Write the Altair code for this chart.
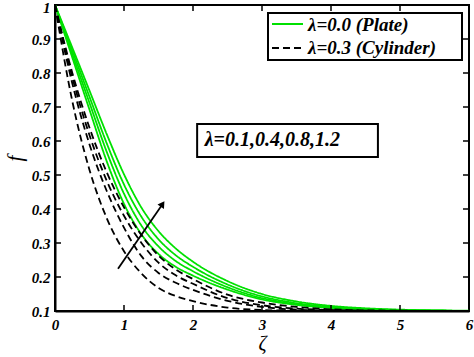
import altair as alt
import pandas as pd

# ---- data ----
zeta = [0, 0.25, 0.5, 0.75, 1.0, 1.25, 1.5, 1.75, 2.0, 2.5, 3.0, 3.5, 4.0, 4.5, 5.0, 5.5, 6.0]

plate_1 = [1.0, 0.875, 0.748, 0.620, 0.502, 0.405, 0.335, 0.284, 0.245, 0.188, 0.150, 0.128, 0.115, 0.108, 0.104, 0.102, 0.101]
plate_2 = [1.0, 0.866, 0.730, 0.593, 0.472, 0.378, 0.311, 0.264, 0.230, 0.178, 0.143, 0.123, 0.112, 0.106, 0.103, 0.101, 0.100]
plate_3 = [1.0, 0.856, 0.712, 0.568, 0.445, 0.352, 0.290, 0.247, 0.217, 0.170, 0.138, 0.120, 0.110, 0.105, 0.102, 0.101, 0.100]
plate_4 = [1.0, 0.846, 0.692, 0.540, 0.415, 0.326, 0.268, 0.230, 0.204, 0.163, 0.134, 0.118, 0.109, 0.104, 0.102, 0.101, 0.100]

cyl_1 = [1.0, 0.801, 0.639, 0.508, 0.405, 0.324, 0.263, 0.222, 0.194, 0.148, 0.125, 0.112, 0.105, 0.102, 0.101, 0.100, 0.100]
cyl_2 = [1.0, 0.788, 0.617, 0.483, 0.380, 0.301, 0.242, 0.205, 0.180, 0.138, 0.117, 0.107, 0.103, 0.101, 0.100, 0.100, 0.100]
cyl_3 = [1.0, 0.770, 0.590, 0.453, 0.345, 0.262, 0.212, 0.183, 0.162, 0.130, 0.112, 0.104, 0.101, 0.100, 0.100, 0.100, 0.100]
cyl_4 = [1.0, 0.718, 0.515, 0.373, 0.276, 0.211, 0.168, 0.144, 0.129, 0.110, 0.103, 0.101, 0.100, 0.100, 0.100, 0.100, 0.100]

series_names = ["λ=0.0 (Plate)", "λ=0.3 (Cylinder)"]
series_colors = ["#00e000", "#000000"]
x_ticks = [0, 1, 2, 3, 4, 5, 6]
y_ticks = [0.1, 0.2, 0.3, 0.4, 0.5, 0.6, 0.7, 0.8, 0.9, 1.0]

arrow_x = [0.913, 1.55]
arrow_y = [0.224, 0.412]
note_text = "λ=0.1,0.4,0.8,1.2"
note_box_x = [2.06, 4.68]
note_box_y = [0.553, 0.650]
note_pos = [2.17, 0.603]

# ---- build tables ----
rows = []
for i, s in enumerate([plate_1, plate_2, plate_3, plate_4]):
    for xv, fv in zip(zeta, s):
        rows.append({"zeta": xv, "f": fv, "curve": f"p{i}", "type": series_names[0]})
for i, s in enumerate([cyl_1, cyl_2, cyl_3, cyl_4]):
    for xv, fv in zip(zeta, s):
        rows.append({"zeta": xv, "f": fv, "curve": f"c{i}", "type": series_names[1]})
df = pd.DataFrame(rows)

FONT = "Liberation Serif"
W, H = 414, 306

xscale = alt.Scale(domain=[0, 6], nice=False)
yscale = alt.Scale(domain=[0.1, 1.0], nice=False, zero=False)

AX = alt.Axis(values=x_ticks, title="ζ", format="d", ticks=False,
              labelPadding=6, titlePadding=1, titleFontSize=20,
              titleFontWeight="normal", labelFlush=False, labelOverlap=False)
AY = alt.Axis(values=y_ticks, title="f", format="~g", ticks=False, labelPadding=5,
              titlePadding=6, titleFontSize=21, titleFontWeight="normal",
              labelOverlap=False, labelFlush=False,
              labelOffset={"expr": "datum.value >= 0.99 ? 2 : 0"})


def X(field):
    return alt.X(field, scale=xscale, axis=AX)


def Y(field):
    return alt.Y(field, scale=yscale, axis=AY)


lines = alt.Chart(df).mark_line(interpolate="monotone", strokeWidth=1.8, clip=True).encode(
    x=X("zeta:Q"),
    y=Y("f:Q"),
    color=alt.Color("type:N", scale=alt.Scale(domain=series_names, range=series_colors),
                    legend=None),
    strokeDash=alt.StrokeDash("type:N",
                              scale=alt.Scale(domain=series_names, range=[[1, 0], [7, 4]]),
                              legend=None),
    detail="curve:N",
)

arrow_df = pd.DataFrame({"zeta": arrow_x, "f": arrow_y})
arrow_line = alt.Chart(arrow_df).mark_line(color="black", strokeWidth=1.8).encode(
    x=X("zeta:Q"), y=Y("f:Q"))
arrow_head = alt.Chart(arrow_df.iloc[[1]]).mark_point(
    shape="triangle", filled=True, color="black", size=60, angle=34, opacity=1).encode(
    x=X("zeta:Q"), y=Y("f:Q"))

box_df = pd.DataFrame({"x1": [note_box_x[0]], "x2": [note_box_x[1]],
                       "y1": [note_box_y[0]], "y2": [note_box_y[1]]})
note_box = alt.Chart(box_df).mark_rect(fill="white", stroke="black", strokeWidth=2).encode(
    x=X("x1:Q"), x2="x2:Q", y=Y("y1:Q"), y2="y2:Q")
note_df = pd.DataFrame({"x": [note_pos[0]], "y": [note_pos[1]], "t": [note_text]})
note = alt.Chart(note_df).mark_text(
    align="left", baseline="middle", font=FONT, fontSize=20, fontStyle="italic",
    fontWeight="bold", color="black").encode(
    x=X("x:Q"), y=Y("y:Q"), text="t:N")

# legend box (top-right), drawn by hand
leg_df = pd.DataFrame({"t": series_names})
legend_box = alt.Chart(leg_df.iloc[[0]]).mark_rect(
    fill="white", stroke="black", strokeWidth=2).encode(
    x=alt.value(213), x2=alt.value(407), y=alt.value(8), y2=alt.value(55))
leg_line1 = alt.Chart(leg_df.iloc[[0]]).mark_rule(
    color=series_colors[0], strokeWidth=2).encode(
    x=alt.value(217), x2=alt.value(248), y=alt.value(19))
leg_line2 = alt.Chart(leg_df.iloc[[1]]).mark_rule(
    color=series_colors[1], strokeWidth=2, strokeDash=[7, 4]).encode(
    x=alt.value(217), x2=alt.value(250), y=alt.value(43))
leg_text1 = alt.Chart(leg_df.iloc[[0]]).mark_text(
    align="left", baseline="middle", font=FONT, fontSize=19, fontStyle="italic",
    fontWeight="bold", color="black").encode(
    x=alt.value(253), y=alt.value(20), text="t:N")
leg_text2 = alt.Chart(leg_df.iloc[[1]]).mark_text(
    align="left", baseline="middle", font=FONT, fontSize=19, fontStyle="italic",
    fontWeight="bold", color="black").encode(
    x=alt.value(253), y=alt.value(43), text="t:N")

# inward ticks
xt_df = pd.DataFrame({"v": x_ticks[1:-1]})
yt_df = pd.DataFrame({"v": y_ticks[1:-1]})
tick_bottom = alt.Chart(xt_df).mark_rule(color="black", strokeWidth=1.5).encode(
    x=X("v:Q"), y=alt.value(H), y2=alt.value(H - 6))
tick_top = alt.Chart(xt_df).mark_rule(color="black", strokeWidth=1.5).encode(
    x=X("v:Q"), y=alt.value(0), y2=alt.value(6))
tick_left = alt.Chart(yt_df).mark_rule(color="black", strokeWidth=1.5).encode(
    y=Y("v:Q"), x=alt.value(0), x2=alt.value(6))
tick_right = alt.Chart(yt_df).mark_rule(color="black", strokeWidth=1.5).encode(
    y=Y("v:Q"), x=alt.value(W), x2=alt.value(W - 6))

chart = alt.layer(
    lines, arrow_line, arrow_head, note_box, note,
    legend_box, leg_line1, leg_line2, leg_text1, leg_text2,
    tick_bottom, tick_top, tick_left, tick_right
).properties(
    width=W, height=H,
    padding={"left": 55, "top": 5, "right": 5, "bottom": 46},
    autosize=alt.AutoSizeParams(type="none"),
    background="white",
).configure_view(
    stroke="black", strokeWidth=2
).configure_axis(
    domainColor="black", domainWidth=2, grid=False, labelOverlap=False,
    labelFont=FONT, labelFontSize=15, labelFontStyle="italic", labelFontWeight="bold",
    labelColor="black", titleFont=FONT, titleFontStyle="italic", titleColor="black",
)

chart.save("out.html", embed_options={"renderer": "svg", "actions": False})
